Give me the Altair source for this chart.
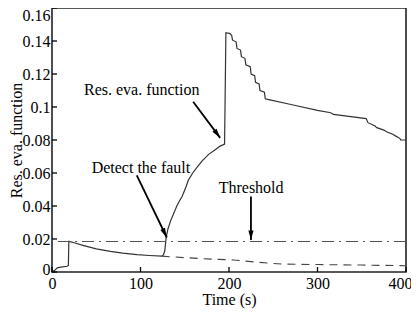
import math
import altair as alt
import pandas as pd

# ---- data ----
solid_t = [0, 3, 6, 10, 17, 18.5, 19, 25, 36, 50, 66, 80, 96, 110, 124, 126, 127.5, 129, 131, 134,
           138, 141, 144, 147, 151, 154, 159, 164, 170, 177, 184, 190, 195, 196.5, 201,
           203, 204, 208, 209, 213, 214, 218, 219, 224, 225, 229, 230, 234, 235, 240, 241,
           245, 270, 300, 315, 318, 340, 355, 357, 365, 367, 375, 378, 385, 388, 393, 394, 400]
solid_v = [0, 0.001, 0.0025, 0.003, 0.0035, 0.004, 0.0186, 0.0177, 0.016, 0.014, 0.0125, 0.0114,
           0.0105, 0.0100, 0.0096, 0.0105, 0.013, 0.021, 0.026, 0.031,
           0.036, 0.040, 0.043, 0.0457, 0.051, 0.0556, 0.060, 0.0635, 0.0675, 0.0713, 0.074,
           0.0763, 0.0775, 0.145, 0.1445,
           0.1435, 0.1405, 0.1395, 0.1355, 0.1345, 0.1305, 0.1295, 0.1255, 0.1245, 0.1200,
           0.1190, 0.1150, 0.1140, 0.1100, 0.1090, 0.1050,
           0.1045, 0.1015, 0.098, 0.0965, 0.0955, 0.094, 0.093, 0.0905, 0.0885, 0.0875,
           0.086, 0.085, 0.0835, 0.0825, 0.081, 0.080, 0.080]

dashed_t = [124, 150, 180, 205, 230, 260, 300, 350, 400]
dashed_v = [0.0096, 0.0087, 0.0078, 0.0073, 0.006, 0.0048, 0.0045, 0.0042, 0.0038]

threshold = 0.0185

x_ticks = [0, 100, 200, 300, 400]
y_ticks = [0, 0.02, 0.04, 0.06, 0.08, 0.1, 0.12, 0.14, 0.16]

labels = ["Res. eva. function", "Detect the fault", "Threshold"]
label_t = [101.4, 100.5, 225]
label_v = [0.1105, 0.063, 0.0512]

arrow_t0 = [159.5, 95.8, 224.8]
arrow_v0 = [0.1032, 0.0585, 0.0457]
arrow_t1 = [190, 129.7, 224.8]
arrow_v1 = [0.0813, 0.0209, 0.0194]

# ---- layout ----
W, H = 354, 264
XMAX, YMAX = 400, 0.16
FONT = "Liberation Serif"

xs = alt.Scale(domain=[0, XMAX], nice=False, zero=False)
ys = alt.Scale(domain=[0, YMAX], nice=False, zero=False)

solid_df = pd.DataFrame({"t": solid_t, "v": solid_v})
dashed_df = pd.DataFrame({"t": dashed_t, "v": dashed_v})
thr_df = pd.DataFrame({"v": [threshold]})
lab_df = pd.DataFrame({"label": labels, "t": label_t, "v": label_v})

angles = []
for a, b, c, d in zip(arrow_t0, arrow_v0, arrow_t1, arrow_v1):
    dx = (c - a) * W / XMAX
    dy = (b - d) * H / YMAX
    angles.append(math.degrees(math.atan2(dx, -dy)) % 360)
arr_df = pd.DataFrame({"t0": arrow_t0, "v0": arrow_v0, "t1": arrow_t1, "v1": arrow_v1, "ang": angles})
xt_df = pd.DataFrame({"t": x_ticks})
yt_df = pd.DataFrame({"v": y_ticks})

x_axis = alt.Axis(
    values=x_ticks, title="Time (s)", tickSize=0, domain=False, grid=False,
    labelPadding=3, titlePadding=0, labelFlush=False, labelOverlap=False,
    labelFont=FONT, titleFont=FONT, labelFontSize=16, titleFontSize=16,
    labelColor="black", titleColor="black", titleFontWeight="normal",
    labelOffset={"condition": {"test": "datum.value == 400", "value": -6}, "value": 0})
y_axis = alt.Axis(
    values=y_ticks, format="~g", title="Res. eva. function", tickSize=0, domain=False, grid=False,
    labelPadding=2, labelOverlap=False, labelFlush=False,
    labelFont=FONT, titleFont=FONT, labelFontSize=16, titleFontSize=16,
    labelColor="black", titleColor="black", titleFontWeight="normal",
    labelOffset={"condition": [{"test": "datum.value == 0.16", "value": 7},
                               {"test": "datum.value == 0", "value": -3}], "value": 0},
    titleX=-36, titleY=H / 2, titleAngle=-90, titleBaseline="middle")

X = alt.X("t:Q", scale=xs, axis=x_axis)
Y = alt.Y("v:Q", scale=ys, axis=y_axis)

solid = alt.Chart(solid_df).mark_line(color="#333333", strokeWidth=1.2).encode(x=X, y=Y)
dashed = alt.Chart(dashed_df).mark_line(color="#444444", strokeWidth=1.1, strokeDash=[8, 6]).encode(
    x=X, y=Y)
thr = alt.Chart(thr_df).mark_rule(color="#555555", strokeWidth=1.1, strokeDash=[12, 5, 2, 5]).encode(
    y=Y)

xtick = alt.Chart(xt_df).mark_rule(color="black", strokeWidth=1.3).encode(
    x=X, y=alt.value(H), y2=alt.value(H - 5))
ytick = alt.Chart(yt_df).mark_rule(color="black", strokeWidth=1.3).encode(
    y=Y, x=alt.value(0), x2=alt.value(5))

text = alt.Chart(lab_df).mark_text(font=FONT, fontSize=16, color="black", baseline="middle").encode(
    x=X, y=Y, text="label:N")

shaft = alt.Chart(arr_df).mark_rule(color="black", strokeWidth=1.8).encode(
    x=alt.X("t0:Q", scale=xs, axis=x_axis), y=alt.Y("v0:Q", scale=ys, axis=y_axis),
    x2="t1:Q", y2="v1:Q")
head = alt.Chart(arr_df).mark_point(shape="M0,0L0.6,2.2L-0.6,2.2Z", filled=True, opacity=1,
                                   color="black", size=75).encode(
    x=alt.X("t1:Q", scale=xs, axis=x_axis), y=alt.Y("v1:Q", scale=ys, axis=y_axis),
    angle=alt.Angle("ang:Q", scale=None))

chart = alt.layer(solid, thr, dashed, xtick, ytick, shaft, head, text).properties(
    width=W, height=H,
    autosize=alt.AutoSizeParams(type="none"),
    padding={"left": 44, "top": 0, "right": 5, "bottom": 37},
).configure_view(stroke="#222222", strokeWidth=1.6)

chart.save("out.html", embed_options={"renderer": "svg", "actions": False})
